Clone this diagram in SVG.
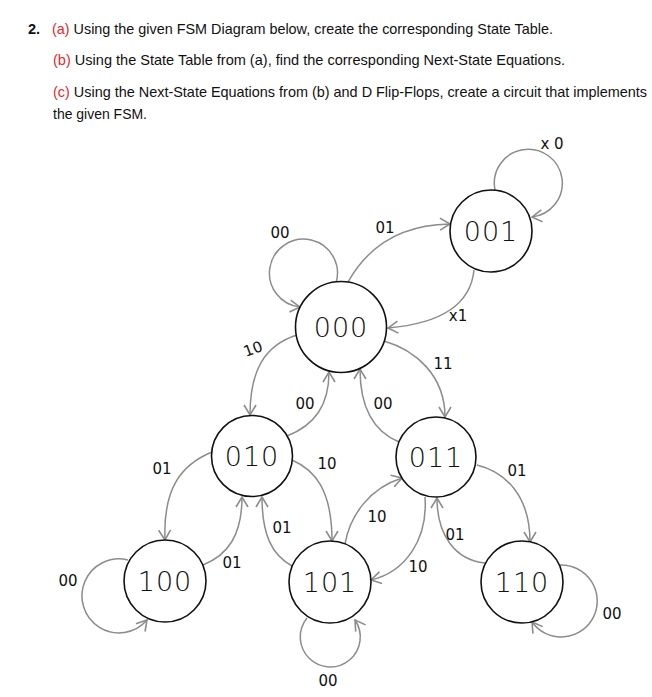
<svg xmlns="http://www.w3.org/2000/svg" width="652" height="697" viewBox="0 0 652 697">
<style>
.hdr{font-family:"Liberation Sans",Arial,sans-serif;font-size:14.5px;fill:#111}
.red{fill:#e8262b}
.node circle{fill:#fff;stroke:#111;stroke-width:1.6}
.node text{font-family:"DejaVu Sans",sans-serif;font-weight:300;font-size:27px;fill:#111;text-anchor:middle;letter-spacing:1px}
.edges path{fill:none;stroke:#8c8c8c;stroke-width:1.5;marker-end:url(#arr)}
.lbl{font-family:"DejaVu Sans",sans-serif;font-size:15px;fill:#111;text-anchor:middle}
</style>
<defs>
<marker id="arr" viewBox="-12 -8 14 16" refX="0" refY="0" markerWidth="14" markerHeight="16" markerUnits="userSpaceOnUse" orient="auto">
<path d="M-10,-6 L0,0 L-10,6" fill="none" stroke="#8c8c8c" stroke-width="1.6"/>
</marker>
</defs>
<rect width="652" height="697" fill="#fff"/>
<g id="header">
<text class="hdr" x="28" y="34" font-weight="bold">2.</text>
<text class="hdr" x="52" y="34" textLength="501" lengthAdjust="spacingAndGlyphs"><tspan class="red">(a)</tspan> Using the given FSM Diagram below, create the corresponding State Table.</text>
<text class="hdr" x="53" y="65" textLength="512" lengthAdjust="spacingAndGlyphs"><tspan class="red">(b)</tspan> Using the State Table from (a), find the corresponding Next-State Equations.</text>
<text class="hdr" x="53" y="97" textLength="594" lengthAdjust="spacingAndGlyphs"><tspan class="red">(c)</tspan> Using the Next-State Equations from (b) and D Flip-Flops, create a circuit that implements</text>
<text class="hdr" x="53" y="119" textLength="94" lengthAdjust="spacingAndGlyphs">the given FSM.</text>
</g>
<g class="edges" id="connectors">
<path d="M336,283 A34,34 0 1 0 300,307"/>
<path d="M348,282 Q380,225 450,224"/>
<path d="M474,270 Q469,321 388,328"/>
<path d="M495,190 A34,34 0 1 1 532,217"/>
<path d="M297,335 C265,345 250,370 250,415"/>
<path d="M287,436 C315,425 329,405 329,372"/>
<path d="M384,341 C415,350 445,375 445,417"/>
<path d="M399,442 C375,432 360,410 360,369"/>
<path d="M292,460 C315,470 332,490 332,541"/>
<path d="M292,566 C272,555 262,535 262,497"/>
<path d="M212,452 C180,465 163,490 165,540"/>
<path d="M203,565 C228,555 242,535 242,497"/>
<path d="M128,560 A37,37 0 1 0 147,620"/>
<path d="M307,618 A30,30 0 1 0 355,620"/>
<path d="M345,544 C350,515 370,488 402,478"/>
<path d="M425,497 C428,540 405,572 371,580"/>
<path d="M477,465 C505,472 530,495 530,542"/>
<path d="M485,563 C455,560 437,535 437,498"/>
<path d="M560,565 A36,36 0 1 1 532,622"/>
</g>
<g id="labels">
<text class="lbl" x="280" y="238">00</text>
<text class="lbl" x="385" y="233">01</text>
<text class="lbl" x="458" y="321">x1</text>
<text class="lbl" x="552" y="149">x 0</text>
<text class="lbl" x="253" y="354" transform="rotate(-20 253 349)">10</text>
<text class="lbl" x="305" y="409">00</text>
<text class="lbl" x="443" y="369">11</text>
<text class="lbl" x="383" y="409">00</text>
<text class="lbl" x="327" y="469">10</text>
<text class="lbl" x="282" y="533">01</text>
<text class="lbl" x="162" y="474">01</text>
<text class="lbl" x="232" y="568">01</text>
<text class="lbl" x="68" y="586">00</text>
<text class="lbl" x="328" y="686">00</text>
<text class="lbl" x="377" y="522">10</text>
<text class="lbl" x="418" y="572">10</text>
<text class="lbl" x="517" y="476">01</text>
<text class="lbl" x="455" y="540">01</text>
<text class="lbl" x="612" y="619">00</text>
</g>
<g class="node" id="s000"><circle cx="341" cy="327" r="45.5"/><text x="341" y="337">000</text></g>
<g class="node" id="s001"><circle cx="491" cy="231" r="41"/><text x="491" y="241">001</text></g>
<g class="node" id="s010"><circle cx="252" cy="456" r="40.5"/><text x="252" y="466">010</text></g>
<g class="node" id="s011"><circle cx="436" cy="457" r="40"/><text x="436" y="467">011</text></g>
<g class="node" id="s100"><circle cx="165" cy="581" r="41"/><text x="165" y="591">100</text></g>
<g class="node" id="s101"><circle cx="330" cy="582" r="41"/><text x="330" y="592">101</text></g>
<g class="node" id="s110"><circle cx="522" cy="582" r="41"/><text x="522" y="592">110</text></g>
</svg>
